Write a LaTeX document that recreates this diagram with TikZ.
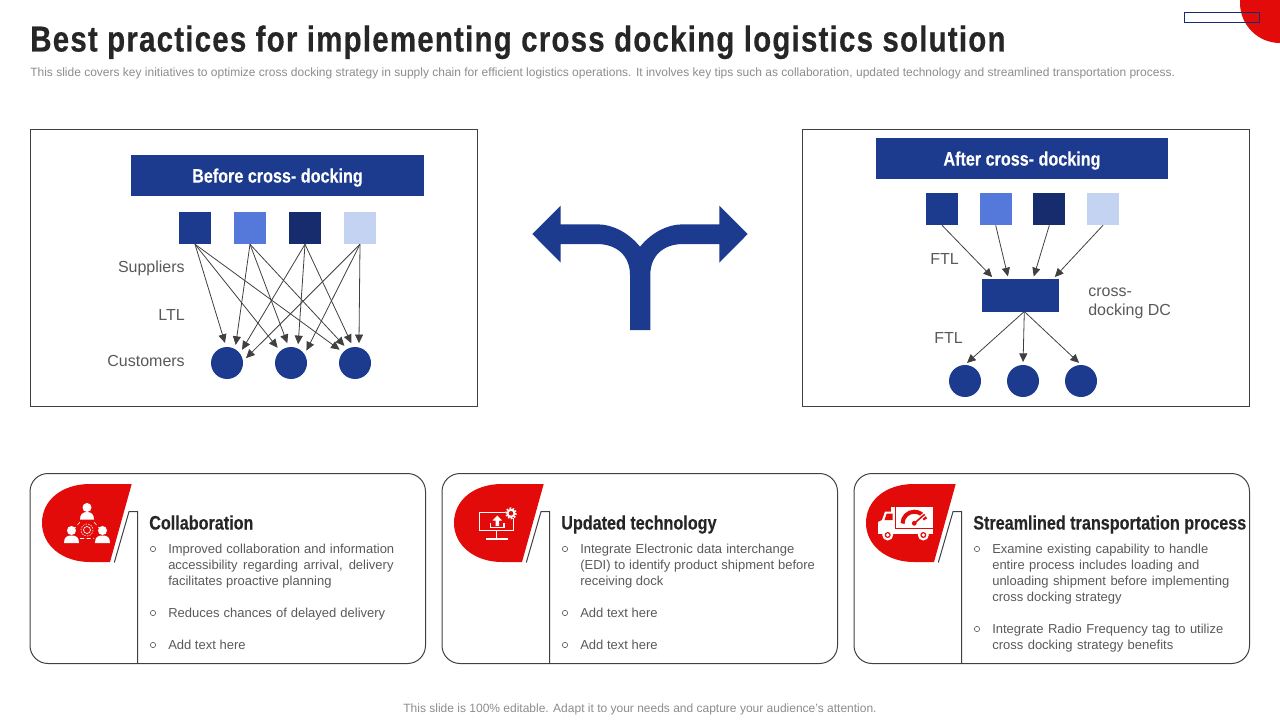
\documentclass[tikz,border=0pt]{standalone}
\usepackage{fontspec}
\setmainfont{Liberation Sans}
\newfontfamily\headfont[FakeStretch=0.82,LetterSpace=3.3,FakeBold=0.4]{Liberation Sans}
\newfontfamily\cardfont[FakeStretch=0.83,FakeBold=0.25]{Liberation Sans}
\usetikzlibrary{arrows.meta,positioning}

\definecolor{navy}{HTML}{1C3B8E}
\definecolor{midblue}{HTML}{5579DB}
\definecolor{deepblue}{HTML}{172C6C}
\definecolor{paleblue}{HTML}{C5D3F2}
\definecolor{slidered}{HTML}{E30A0A}
\definecolor{inkgray}{HTML}{404040}
\definecolor{bodygray}{HTML}{595959}
\definecolor{notegray}{HTML}{8C8C8C}

\newcommand{\fitline}[2]{\makebox[#1pt][s]{#2}}

\tikzset{
  panel/.style={draw=inkgray, line width=0.75pt},
  banner/.style={fill=navy, text=white, inner sep=0pt, text height=13.6pt, text depth=3pt, font=\cardfont\bfseries\fontsize{14.6}{16}\selectfont},
  source/.style={minimum size=24pt, inner sep=0pt},
  sink/.style={circle, fill=navy, minimum size=24pt, inner sep=0pt},
  flow/.style={-{Triangle[length=6.5pt,width=6pt]}, color=inkgray, line width=0.6pt},
  tag/.style={text=bodygray, inner sep=0pt, font=\fontsize{12}{14.25}\selectfont},
  card/.style={draw=inkgray, line width=0.75pt, rounded corners=13.5pt},
  cardhead/.style={anchor=base west, inner sep=0pt, text=black!85, font=\cardfont\bfseries\fontsize{14.6}{16}\selectfont},
  cardbody/.style={anchor=north west, inner sep=0pt, align=left, text=bodygray, font=\fontsize{9.75}{12}\selectfont},
  dot/.style={circle, draw=bodygray, line width=0.45pt, minimum size=4pt, inner sep=0pt},
  iconline/.style={draw=white, line width=0.75pt},
}

\begin{document}
\begin{tikzpicture}[x=0.75pt, y=-0.75pt, on grid]
\useasboundingbox (0,0) rectangle (1280,720);

% top corner mark
\fill[slidered] (1280,3) circle (40);
\draw[draw=deepblue, line width=0.75pt] (1184,13) rectangle (1259.5,23);

% heading
\node[anchor=base west, inner sep=0pt, text=black!85, font=\headfont\bfseries\fontsize{27}{32}\selectfont] (title) at (30,51.5) {Best practices for implementing cross docking logistics solution};
\node[anchor=base west, inner sep=0pt, text=notegray, font=\fontsize{9}{10}\selectfont] (intro) at (30,76.5) {This slide covers key initiatives to optimize cross docking strategy in supply chain for efficient logistics operations. It involves key tips such as collaboration, updated technology and streamlined transportation process.};
\node[anchor=base, inner sep=0pt, text=notegray, font=\fontsize{9}{11}\selectfont] (note) at (640,712) {This slide is 100\% editable. Adapt it to your needs and capture your audience's attention.};

% before panel
\draw[panel] (30,129.5) rectangle (477.5,406.5);
\node[banner, minimum width=219.75pt, minimum height=30.75pt] (before) at (277.5,175.5) {Before cross- docking};
\begin{scope}[node distance=41.25pt]
\node[source, fill=navy] (s_1) at (195,228) {};
\node[source, fill=midblue] (s_2) [right=of s_1] {};
\node[source, fill=deepblue] (s_3) [right=of s_2] {};
\node[source, fill=paleblue] (s_4) [right=of s_3] {};
\end{scope}
\begin{scope}[node distance=48pt]
\node[sink] (c_1) at (227,363) {};
\node[sink] (c_2) [right=of c_1] {};
\node[sink] (c_3) [right=of c_2] {};
\end{scope}
\node[tag, anchor=east] (suppliers) at (185,268) {Suppliers};
\node[tag, anchor=east] (ltl) at (185,314.5) {LTL};
\node[tag, anchor=east] (customers) at (185,361) {Customers};
\foreach \from/\to/\ang in {1/1/93, 2/1/60, 3/1/37, 4/1/7,
                            1/2/132, 2/2/98, 3/2/65, 4/2/33,
                            1/3/138, 2/3/119, 3/3/97, 4/3/76}
  \draw[flow, shorten >=3pt] (s_\from.south) -- (c_\to.\ang);

% split arrow
\fill[navy] (532.3,234) -- (560.7,205.7) -- (560.7,224.3) -- (596.7,224.3)
  .. controls (612,224.3) and (628,232) .. (640,246.7)
  .. controls (652,232) and (668,224.3) .. (683.3,224.3)
  -- (719.3,224.3) -- (719.3,205.7) -- (747.7,234) -- (719.3,262.7) -- (719.3,244) -- (683.3,244)
  .. controls (663,244) and (650.3,256) .. (650.3,275)
  -- (650.3,330) -- (630,330) -- (630,275)
  .. controls (630,256) and (617,244) .. (596.7,244)
  -- (560.7,244) -- (560.7,262.7) -- cycle;

% after panel
\draw[panel] (802.5,129.5) rectangle (1249.5,406.5);
\node[banner, minimum width=219pt, minimum height=30.75pt] (after) at (1022,158.5) {After cross- docking};
\begin{scope}[node distance=40.25pt]
\node[source, fill=navy] (t_1) at (942,209) {};
\node[source, fill=midblue] (t_2) [right=of t_1] {};
\node[source, fill=deepblue] (t_3) [right=of t_2] {};
\node[source, fill=paleblue] (t_4) [right=of t_3] {};
\end{scope}
\node[fill=navy, minimum width=57.75pt, minimum height=24.75pt, inner sep=0pt] (dc) at (1020.5,295.5) {};
\begin{scope}[node distance=43.5pt]
\node[sink] (r_1) at (965,381) {};
\node[sink] (r_2) [right=of r_1] {};
\node[sink] (r_3) [right=of r_2] {};
\end{scope}
\coordinate (dc_a) at (994,279);
\coordinate (dc_b) at (1008.5,279);
\coordinate (dc_c) at (1033,279);
\coordinate (dc_d) at (1053,279);
\coordinate (dc_out) at (1024.3,311.5);
\node[tag, anchor=west] (ftl_a) at (930,258.5) {FTL};
\node[tag, anchor=west] (ftl_b) at (934,337.5) {FTL};
\node[tag, anchor=north west, align=left] (dclabel) at (1088,288) {cross-\\docking DC};
\path[flow, shorten >=2pt]
(t_1.south) edge (dc_a)
(t_2.south) edge (dc_b)
(t_3.south) edge (dc_c)
(t_4.south) edge (dc_d)
(dc_out) edge (r_1.north)
(dc_out) edge (r_2.north)
(dc_out) edge (r_3.north);

% cards
\foreach \shiftx in {0,412,824} {
\begin{scope}[xshift=\shiftx*0.75pt]
\draw[card] (30,473.5) rectangle (425.5,663.5);
\fill[slidered] (131.7,484) -- (90,484) .. controls (62,484) and (42,500) .. (42,523)
  .. controls (42,545) and (62,562) .. (90,562) -- (110,562) -- cycle;
\draw[draw=inkgray, line width=0.75pt] (114.3,562.5) -- (129,511.7) -- (137.5,511.7) -- (137.5,663.5);
\end{scope}
}

% people icon
\fill[white] (87,507.5) circle (4.5)
  (80,519.5) .. controls (80,514) and (83,512) .. (87,512) .. controls (91,512) and (94,514) .. (94,519.5) -- cycle
  (71.5,530.5) circle (4.5)
  (64,543) .. controls (64,537) and (67,535.5) .. (71.5,535.5) .. controls (76,535.5) and (79,537) .. (79,543) -- cycle
  (102.5,530.5) circle (4.5)
  (95,543) .. controls (95,537) and (98,535.5) .. (102.5,535.5) .. controls (107,535.5) and (110,537) .. (110,543) -- cycle;
\draw[iconline, line width=0.4pt, densely dashed] (80,522) -- (75,528) (94,522) -- (99,528) (80,538.5) -- (94,538.5);
\draw[iconline, line width=0.5pt] (87,530) circle (3.5);
\draw[iconline, line width=0.5pt, dash pattern=on 1pt off 1pt] (87,530) circle (6);

% monitor icon
\draw[iconline] (513.5,518) -- (513.5,530) -- (479.5,530) -- (479.5,512) -- (505,512);
\draw[iconline, line width=1pt] (496.7,530) -- (496.7,538.5);
\draw[iconline, line width=1pt] (486,539) -- (507.7,539);
\fill[white] (497.3,515.5) -- (502,520.5) -- (499,520.5) -- (499,526) -- (495.5,526) -- (495.5,520.5) -- (492.5,520.5) -- cycle;
\draw[iconline, line width=1pt] (490.7,523.3) -- (490.7,527.7) -- (504,527.7) -- (504,523.3);
\fill[white] (511,513.3) circle (4.5);
\draw[draw=white, line width=1.5pt, dash pattern=on 1.2pt off 1.1pt] (511,513.3) circle (5);
\fill[slidered] (511,513.3) circle (2.3);

% truck icon
\fill[white] (891,507.3) rectangle (933.3,528.3);
\fill[white] (877.7,527.5) rectangle (933.3,533.5);
\fill[white] (878,533) -- (878,522) -- (882,520) -- (885,511.5) -- (895,511.5) -- (895,533) -- cycle;
\fill[slidered] (886.7,513.5) -- (892.7,513.5) -- (892.7,520) -- (884.5,520) -- cycle;
\draw[slidered, line width=0.5pt] (895.5,507.3) -- (895.5,528.5) -- (933.3,528.5);
\draw[slidered, line width=3pt] (902.5,523.5) arc[start angle=180, end angle=340, radius=11.8];
\draw[white, line width=3pt] (914.3,523.3) -- (926,513.2);
\draw[slidered, line width=1.2pt] (914.3,523.3) -- (924.7,514.3);
\fill[slidered] (914.3,523.3) circle (2.4);
\foreach \wheelx in {887.7,923.3} {
  \fill[white] (\wheelx,535) circle (5.5);
  \fill[slidered] (\wheelx,535) circle (3);
  \fill[white] (\wheelx,535) circle (1.8);
}

% first card text
\node[cardhead] (collab) at (149,529.5) {Collaboration};
\node[dot] (p_1) at (153,549) {};
\node[dot] (p_2) at (153,613) {};
\node[dot] (p_3) at (153,645) {};
\node[cardbody] (collab_a) at (168,544) {\fitline{169.5}{Improved collaboration and information}\\\fitline{169}{accessibility regarding arrival, delivery}\\facilitates proactive planning};
\node[cardbody] (collab_b) at (168,608) {\fitline{162.75}{Reduces chances of delayed delivery}};
\node[cardbody] (collab_c) at (168,640) {Add text here};

% second card text
\node[cardhead] (update) at (561,529.5) {Updated technology};
\node[dot] (q_1) at (565,549) {};
\node[dot] (q_2) at (565,613) {};
\node[dot] (q_3) at (565,645) {};
\node[cardbody] (update_a) at (580,544) {\fitline{160.5}{Integrate Electronic data interchange}\\\fitline{176}{(EDI) to identify product shipment before}\\receiving dock};
\node[cardbody] (update_b) at (580,608) {Add text here};
\node[cardbody] (update_c) at (580,640) {Add text here};

% third card text
\node[cardhead] (stream) at (973,529.5) {Streamlined transportation process};
\node[dot] (u_1) at (977,549) {};
\node[dot] (u_2) at (977,629) {};
\node[cardbody] (stream_a) at (992,544) {\fitline{162}{Examine existing capability to handle}\\\fitline{155.25}{entire process includes loading and}\\\fitline{177.75}{unloading shipment before implementing}\\cross docking strategy};
\node[cardbody] (stream_b) at (992,624) {\fitline{173.25}{Integrate Radio Frequency tag to utilize}\\\fitline{135.75}{cross docking strategy benefits}};
\end{tikzpicture}
\end{document}
